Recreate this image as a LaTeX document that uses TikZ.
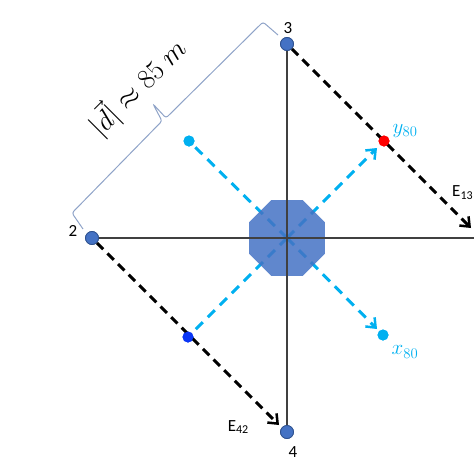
\RequirePackage{fix-cm}
\documentclass[tikz,border=0pt]{standalone}
\usepackage{fontspec}
\setmainfont{Carlito}
\usetikzlibrary{arrows.meta,shapes.geometric}
\definecolor{cyanC}{HTML}{00B0F0}
\definecolor{nodeblue}{HTML}{4472C4}
\definecolor{nodeedge}{HTML}{2F528F}
\definecolor{darkdot}{HTML}{0A35F5}
\definecolor{axisgray}{HTML}{404040}
\definecolor{bracecol}{HTML}{8FA3C8}
\tikzset{
  station/.style={circle,fill=nodeblue,draw=nodeedge,line width=0.8pt,minimum size=13pt,inner sep=0pt},
  dotnode/.style={circle,minimum size=11pt,inner sep=0pt},
  axisline/.style={draw=axisgray,line width=1.5pt},
  blackdash/.style={draw=black,line width=3pt,dash pattern=on 9pt off 6pt,-{Straight Barb[length=8pt,width=13pt,line width=2.5pt]}},
  cyandash/.style={draw=cyanC,line width=3pt,dash pattern=on 10pt off 7pt},
  cyanarrow/.style={cyandash,-{Straight Barb[length=8pt,width=13pt,line width=2.5pt]}},
  lbl/.style={font=\fontsize{17}{17}\selectfont,inner sep=0pt},
  bracestyle/.style={draw=bracecol,line width=1pt,rounded corners=2.5pt},
}
\begin{document}
\begin{tikzpicture}[x=1pt,y=-1pt]
\useasboundingbox (0,0) rectangle (474,474);
% coordinates
\coordinate (c) at (287,238);
\coordinate (rightend) at (490,238);
\coordinate (e13end) at (471,228);
\coordinate (e42end) at (279,425);
\coordinate (y80tip) at (377,148);
\coordinate (x80tip) at (377,329);
\coordinate (btip1) at (83,229);
\coordinate (bc1) at (72,213);
\coordinate (bj1) at (162,121);
\coordinate (bcusp) at (153,104);
\coordinate (bj2) at (166,118);
\coordinate (bc2) at (263,22);
\coordinate (btip2) at (278,35);
% dots positions
\node[station] (n2) at (92,238) {};
\node[station] (n3) at (287,44) {};
\node[station] (n4) at (287,432) {};
\node[dotnode,fill=red] (ydot) at (384,141) {};
\node[dotnode,fill=darkdot] (bdot) at (188,337) {};
\node[dotnode,fill=cyanC] (tdot) at (189,141) {};
\node[dotnode,fill=cyanC] (xdot) at (383,335) {};
% cyan dashed lines
\draw[cyandash] (c) -- (tdot.center);
\draw[cyandash] (c) -- (bdot.center);
\draw[cyanarrow] (c) -- (y80tip);
\draw[cyanarrow] (c) -- (x80tip);
% octagon
\node[regular polygon,regular polygon sides=8,minimum size=82pt,inner sep=0pt,fill=nodeblue,fill opacity=0.85] (oct) at (c) {};
% axes
\draw[axisline] (n2) -- (rightend);
\draw[axisline] (n3) -- (n4);
% black dashed arrows
\draw[blackdash] (n3) -- (e13end);
\draw[blackdash] (n2) -- (e42end);
% redraw dots on top
\node[station] at (n2) {};
\node[station] at (n3) {};
\node[station] at (n4) {};
\node[dotnode,fill=red] at (ydot) {};
\node[dotnode,fill=darkdot] at (bdot) {};
\node[dotnode,fill=cyanC] at (tdot) {};
\node[dotnode,fill=cyanC] at (xdot) {};
% brace
\draw[bracestyle] (btip1) -- (bc1) -- (bj1) -- (bcusp) -- (bj2) -- (bc2) -- (btip2);
\node[rotate=45,inner sep=0pt,font=\fontsize{28}{28}\selectfont] (dlabel) at (137,87) {$|\vec{d}|\approx 85\ m$};
% labels
\node[lbl] (l2) at (73,231) {2};
\node[lbl] (l3) at (288,28) {3};
\node[lbl] (l4) at (293,452) {4};
\node[lbl,anchor=west] (le13) at (452,193) {E\raisebox{-0.35ex}{\fontsize{12}{12}\selectfont 13}};
\node[lbl] (le42) at (238,427) {E\raisebox{-0.35ex}{\fontsize{12}{12}\selectfont 42}};
\node[text=cyanC,inner sep=0pt,font=\fontsize{21}{21}\selectfont] (ly80) at (405,131) {$y_{80}$};
\node[text=cyanC,inner sep=0pt,font=\fontsize{21}{21}\selectfont] (lx80) at (405,352) {$x_{80}$};
\end{tikzpicture}
\end{document}
